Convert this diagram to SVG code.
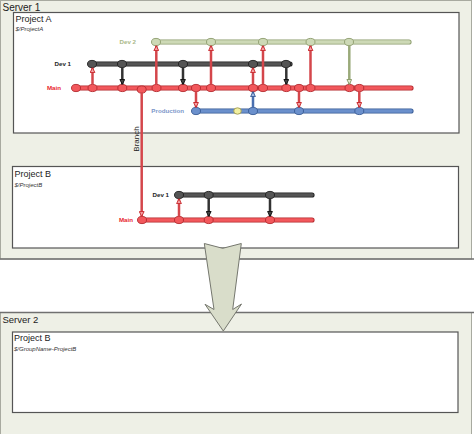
<svg xmlns="http://www.w3.org/2000/svg" width="474" height="434" viewBox="0 0 474 434">
<defs>
<style>
.srv{fill:#eef0e6;stroke:#a8aaa0;stroke-width:1}
.sep{stroke:#707070;stroke-width:1.5}
.prj{fill:#fff;stroke:#555;stroke-width:1.2}
.t-srv{font-family:"Liberation Sans",Arial,sans-serif;font-size:10px;fill:#222}
.t-prj{font-family:"Liberation Sans",Arial,sans-serif;font-size:9px;fill:#222}
.t-path{font-family:"Liberation Sans",Arial,sans-serif;font-size:6px;font-style:italic;fill:#333}
.lbl{font-family:"Liberation Sans",Arial,sans-serif;font-size:6.2px;font-weight:bold;text-anchor:end}
.o{fill:none;stroke-width:5.2;stroke-linecap:round}
.i{fill:none;stroke-width:3.4;stroke-linecap:round}
.n{stroke-width:0.9}
.main .o,.main .n{stroke:#b3282c}.main .i{stroke:#f2585c}.main .n{fill:#f2585c}.main text{fill:#e8262c}
.dev1 .o,.dev1 .n{stroke:#1e1e1e}.dev1 .i{stroke:#555}.dev1 .n{fill:#555}.dev1 text{fill:#222}
.dev2 .o,.dev2 .n{stroke:#8c9c6c}.dev2 .i{stroke:#cdd9b6}.dev2 .n{fill:#cdd9b6}.dev2 text{fill:#a9b888}
.prod .o,.prod .n{stroke:#375a94}.prod .i{stroke:#6b90cc}.prod .n{fill:#6b90cc}.prod text{fill:#7b96c9}
.c{stroke-width:2.5;fill:none}
.cr{stroke:#d4464b;marker-end:url(#mr)}
.cd{stroke:#333;marker-end:url(#md)}
.cg{stroke:#9aaa7a;marker-end:url(#mg)}
.cb{stroke:#4a70b0;marker-end:url(#mb)}
</style>
<marker id="mr" viewBox="0 0 10 10" refX="9" refY="5" markerWidth="6.5" markerHeight="6" markerUnits="userSpaceOnUse" orient="auto"><path d="M1,1 L9,5 L1,9 z" fill="#f6a4a6" stroke="#c8282c" stroke-width="1.6"/></marker>
<marker id="md" viewBox="0 0 10 10" refX="9" refY="5" markerWidth="6.5" markerHeight="6" markerUnits="userSpaceOnUse" orient="auto"><path d="M1,1 L9,5 L1,9 z" fill="#444" stroke="#111" stroke-width="1.6"/></marker>
<marker id="mg" viewBox="0 0 10 10" refX="9" refY="5" markerWidth="6.5" markerHeight="6" markerUnits="userSpaceOnUse" orient="auto"><path d="M1,1 L9,5 L1,9 z" fill="#e2ead0" stroke="#8c9c6c" stroke-width="1.6"/></marker>
<marker id="mb" viewBox="0 0 10 10" refX="9" refY="5" markerWidth="6.5" markerHeight="6" markerUnits="userSpaceOnUse" orient="auto"><path d="M1,1 L9,5 L1,9 z" fill="#a8c0e8" stroke="#375a94" stroke-width="1.6"/></marker>
</defs>
<rect width="474" height="434" fill="#fff"/>

<g id="server1">
<rect class="srv" x="0.5" y="0.5" width="471" height="258.5"/>
<line class="sep" x1="0" y1="259" x2="474" y2="259"/>
<text class="t-srv" x="2.5" y="10.5">Server 1</text>
</g>

<g id="server2">
<rect class="srv" x="0.5" y="312.5" width="471" height="125"/>
<line class="sep" x1="0" y1="312.5" x2="474" y2="312.5"/>
<text class="t-srv" x="2.5" y="323" style="font-size:9.5px">Server 2</text>
</g>

<g id="projectA">
<rect class="prj" x="13.5" y="12.5" width="445.5" height="120.5"/>
<text class="t-prj" x="15.5" y="21.8">Project A</text>
<text class="t-path" x="15.5" y="31">$/ProjectA</text>
</g>

<g id="projectB1">
<rect class="prj" x="12.5" y="166.5" width="446" height="81.5"/>
<text class="t-prj" x="14.5" y="176.8">Project B</text>
<text class="t-path" x="14.5" y="186.5">$/ProjectB</text>
</g>

<g id="projectB2">
<rect class="prj" x="12.5" y="332" width="445.5" height="80.5"/>
<text class="t-prj" x="14" y="341.3">Project B</text>
<text class="t-path" x="14" y="350.5">$/GroupName-ProjectB</text>
</g>

<g id="migrate-arrow">
<polygon points="204.3,243.5 222.7,248.3 241.3,243.5 232.7,309.5 241.5,304 223.3,331 205,304.3 214,309.5" fill="#d9ddca" stroke="#75776e" stroke-width="1"/>
</g>

<g id="a-dev2" class="dev2">
<text class="lbl" x="136" y="44.2">Dev 2</text>
<path class="o" d="M156,42 H409"/><path class="i" d="M156,42 H409"/>
<ellipse class="n" cx="156" cy="42" rx="4.5" ry="3.6"/>
<ellipse class="n" cx="211" cy="42" rx="4.5" ry="3.6"/>
<ellipse class="n" cx="263" cy="42" rx="4.5" ry="3.6"/>
<ellipse class="n" cx="310.5" cy="42" rx="4.5" ry="3.6"/>
<ellipse class="n" cx="349" cy="42" rx="4.5" ry="3.6"/>
</g>

<g id="a-dev1" class="dev1">
<text class="lbl" x="71" y="66.2">Dev 1</text>
<path class="o" d="M92,64 H290"/><path class="i" d="M92,64 H290"/>
<ellipse class="n" cx="92" cy="64" rx="4.5" ry="3.6"/>
<ellipse class="n" cx="122" cy="64" rx="4.5" ry="3.6"/>
<ellipse class="n" cx="183" cy="64" rx="4.5" ry="3.6"/>
<ellipse class="n" cx="253" cy="64" rx="4.5" ry="3.6"/>
<ellipse class="n" cx="286" cy="64" rx="4.5" ry="3.6"/>
</g>

<g id="a-main" class="main">
<text class="lbl" x="61" y="90.2">Main</text>
<path class="o" d="M76,88 H411"/><path class="i" d="M76,88 H411"/>
<ellipse class="n" cx="76" cy="88" rx="4.5" ry="3.6"/>
<ellipse class="n" cx="92.5" cy="88" rx="4.5" ry="3.6"/>
<ellipse class="n" cx="122.3" cy="88" rx="4.5" ry="3.6"/>
<ellipse class="n" cx="141.7" cy="89.5" rx="4.5" ry="3.6"/>
<ellipse class="n" cx="156.5" cy="88" rx="4.5" ry="3.6"/>
<ellipse class="n" cx="183" cy="88" rx="4.5" ry="3.6"/>
<ellipse class="n" cx="196" cy="88" rx="4.5" ry="3.6"/>
<ellipse class="n" cx="211" cy="88" rx="4.5" ry="3.6"/>
<ellipse class="n" cx="253" cy="88" rx="4.5" ry="3.6"/>
<ellipse class="n" cx="263" cy="88" rx="4.5" ry="3.6"/>
<ellipse class="n" cx="286.3" cy="88" rx="4.5" ry="3.6"/>
<ellipse class="n" cx="299" cy="88" rx="4.5" ry="3.6"/>
<ellipse class="n" cx="310.5" cy="88" rx="4.5" ry="3.6"/>
<ellipse class="n" cx="349.5" cy="88" rx="4.5" ry="3.6"/>
<ellipse class="n" cx="359.3" cy="88" rx="4.5" ry="3.6"/>
</g>

<g id="a-production" class="prod">
<text class="lbl" x="184" y="113.2">Production</text>
<path class="o" d="M196,111 H411"/><path class="i" d="M196,111 H411"/>
<ellipse class="n" cx="196" cy="111" rx="4.5" ry="3.6"/>
<ellipse class="n" cx="237.5" cy="111" rx="3.8" ry="3.2" style="fill:#f2f0a0;stroke:#a09a50"/>
<ellipse class="n" cx="253" cy="111" rx="4.5" ry="3.6"/>
<ellipse class="n" cx="299" cy="111" rx="4.5" ry="3.6"/>
<ellipse class="n" cx="359.3" cy="111" rx="4.5" ry="3.6"/>
</g>

<g id="b-dev1" class="dev1">
<text class="lbl" x="169" y="197.2">Dev 1</text>
<path class="o" d="M179,195 H312"/><path class="i" d="M179,195 H312"/>
<ellipse class="n" cx="179" cy="195" rx="4.5" ry="3.6"/>
<ellipse class="n" cx="208.7" cy="195" rx="4.5" ry="3.6"/>
<ellipse class="n" cx="270" cy="195" rx="4.5" ry="3.6"/>
</g>

<g id="b-main" class="main">
<text class="lbl" x="133" y="222.2">Main</text>
<path class="o" d="M142,220 H312"/><path class="i" d="M142,220 H312"/>
<ellipse class="n" cx="142" cy="220" rx="4.5" ry="3.6"/>
<ellipse class="n" cx="179" cy="220" rx="4.5" ry="3.6"/>
<ellipse class="n" cx="208.7" cy="220" rx="4.5" ry="3.6"/>
<ellipse class="n" cx="270" cy="220" rx="4.5" ry="3.6"/>
</g>

<g id="connectors">
<line class="c cr" x1="92.5" y1="84.5" x2="92.5" y2="67.8"/>
<line class="c cd" x1="122.3" y1="67.5" x2="122.3" y2="84.3"/>
<line class="c cr" x1="156.3" y1="84.5" x2="156.3" y2="45.8"/>
<line class="c cd" x1="183" y1="67.5" x2="183" y2="84.3"/>
<line class="c cr" x1="196" y1="91.5" x2="196" y2="107.3"/>
<line class="c cr" x1="211" y1="84.5" x2="211" y2="45.8"/>
<line class="c cr" x1="253" y1="84.5" x2="253" y2="67.8"/>
<line class="c cb" x1="253" y1="107.5" x2="253" y2="91.8"/>
<line class="c cr" x1="263" y1="84.5" x2="263" y2="45.8"/>
<line class="c cd" x1="286.3" y1="67.5" x2="286.3" y2="84.3"/>
<line class="c cr" x1="299" y1="91.5" x2="299" y2="107.3"/>
<line class="c cr" x1="310.5" y1="84.5" x2="310.5" y2="45.8"/>
<line class="c cg" x1="349.3" y1="45.5" x2="349.3" y2="84.3"/>
<line class="c cr" x1="359.3" y1="91.5" x2="359.3" y2="107.3"/>
<g id="branch">
<line class="c cr" x1="141.7" y1="93" x2="141.7" y2="216.4"/>
<text x="138.6" y="139" transform="rotate(-90 138.6 139)" text-anchor="middle" style="font-family:'Liberation Sans',Arial,sans-serif;font-size:8px;fill:#222">Branch</text>
</g>
<line class="c cr" x1="179" y1="216.5" x2="179" y2="198.8"/>
<line class="c cd" x1="208.7" y1="198.5" x2="208.7" y2="216.3"/>
<line class="c cd" x1="270" y1="198.5" x2="270" y2="216.3"/>
</g>
</svg>
